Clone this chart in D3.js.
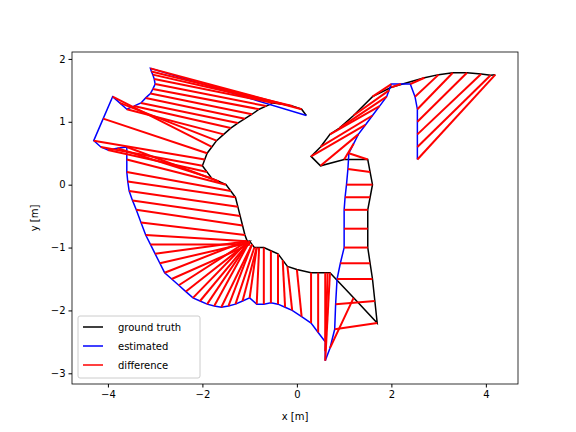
<!DOCTYPE html>
<html><head><meta charset="utf-8">
<script src="https://cdn.jsdelivr.net/npm/d3@7"></script>
<style>body{margin:0;background:#fff}text{font-family:"DejaVu Sans",sans-serif}</style>
</head><body><div id="chart"></div>
<script>
// ground truth trajectory [x, y] in metres
const gtPts = [
  [0.2,1.1],[0.1,1.2],[-0.1,1.25],[-0.3,1.28],[-0.5,1.3],[-0.65,1.25],[-0.8,1.2],[-0.95,1.12],[-1.1,1.05],[-1.25,0.98],
  [-1.4,0.9],[-1.55,0.8],[-1.7,0.7],[-1.8,0.6],[-1.9,0.5],[-1.95,0.4],[-2.0,0.3],[-1.9,0.2],[-1.8,0.1],[-1.65,0.05],
  [-1.5,0.0],[-1.4,-0.1],[-1.3,-0.2],[-1.25,-0.35],[-1.2,-0.5],[-1.15,-0.65],[-1.1,-0.8],[-1.05,-0.9],
  [-1.0,-0.95],[-1.05,-0.9],[-1.0,-0.92],[-1.1,-0.9],[-1.0,-0.95],[-1.05,-0.9],[-1.0,-0.9],[-1.1,-0.95],
  [-1.0,-0.9],[-1.05,-0.95],[-1.0,-0.9],[-0.95,-0.95],[-0.95,-0.95],[-0.9,-1.0],[-0.85,-1.0],[-0.85,-1.0],
  [-0.8,-1.0],[-0.7,-1.0],[-0.55,-1.05],[-0.4,-1.1],[-0.3,-1.2],[-0.2,-1.3],[0.0,-1.35],[0.3,-1.4],[0.45,-1.4],[0.6,-1.4],
  [0.65,-1.4],[0.7,-1.4],[1.2,-1.8],[1.7,-2.2],
  [1.65,-1.85],[1.6,-1.5],[1.55,-1.25],[1.5,-1.0],[1.5,-0.7],[1.5,-0.4],[1.55,-0.2],[1.6,0.0],[1.55,0.2],[1.5,0.4],
  [1.0,0.4],[0.5,0.3],[0.3,0.45],[0.5,0.6],[0.7,0.8],[0.9,0.9],[1.2,1.1],[1.6,1.4],[2.0,1.55],[2.7,1.7],
  [3.0,1.75],[3.3,1.78],[3.6,1.78],[3.9,1.76],[4.1,1.74],[4.2,1.75]
];
// estimated trajectory [x, y] in metres
const estPts = [
  [0.2,1.1],[-3.1,1.85],[-3.08,1.8],[-3.05,1.75],[-3.02,1.68],[-3.0,1.6],[-3.05,1.52],[-3.1,1.45],[-3.2,1.38],[-3.3,1.3],
  [-3.45,1.25],[-3.6,1.2],[-3.75,1.3],[-3.9,1.4],[-4.1,1.05],[-4.3,0.7],[-4.15,0.6],[-4.0,0.55],[-3.8,0.58],[-3.6,0.6],
  [-3.6,0.4],[-3.6,0.2],[-3.58,0.05],[-3.55,-0.1],[-3.48,-0.25],[-3.4,-0.4],[-3.3,-0.6],[-3.2,-0.8],
  [-3.1,-0.95],[-3.0,-1.1],[-2.9,-1.25],[-2.8,-1.4],[-2.65,-1.5],[-2.5,-1.6],[-2.35,-1.7],[-2.2,-1.8],
  [-2.05,-1.85],[-1.9,-1.9],[-1.75,-1.93],[-1.6,-1.95],[-1.45,-1.93],[-1.3,-1.9],[-1.15,-1.85],[-1.0,-1.8],
  [-0.85,-1.9],[-0.7,-1.9],[-0.55,-1.88],[-0.4,-1.9],[-0.25,-1.95],[-0.1,-2.0],[0.1,-2.1],[0.3,-2.2],[0.45,-2.35],[0.6,-2.5],
  [0.6,-2.65],[0.6,-2.8],[0.7,-2.6],[0.8,-2.3],
  [0.82,-1.9],[0.85,-1.5],[0.92,-1.25],[1.0,-1.0],[1.0,-0.7],[1.0,-0.4],[1.02,-0.2],[1.05,0.0],[1.08,0.25],[1.1,0.5],
  [1.2,0.65],[1.3,0.8],[1.45,0.95],[1.6,1.1],[1.75,1.25],[1.9,1.4],[1.95,1.5],[2.0,1.6],[2.2,1.6],[2.4,1.6],
  [2.5,1.4],[2.55,1.2],[2.55,1.0],[2.55,0.8],[2.55,0.6],[2.55,0.4]
];
const xTicks = [-4,-2,0,2,4];
const yTicks = [-3,-2,-1,0,1,2];
const legendItems = [["ground truth","black"],["estimated","blue"],["difference","red"]];

const W = 576, H = 432, m = {l:72, r:58, t:52, b:48};
const svg = d3.select("#chart").append("svg").attr("width", W).attr("height", H);
const x = d3.scaleLinear().domain([-4.76, 4.68]).range([m.l, W - m.r]);
const y = d3.scaleLinear().domain([-3.17, 2.11]).range([H - m.b, m.t]);
const line = d3.line().x(d => x(d[0])).y(d => y(d[1]));

svg.append("path").attr("d", line(gtPts)).attr("fill", "none").attr("stroke", "black").attr("stroke-width", 1.5);
svg.append("path").attr("d", line(estPts)).attr("fill", "none").attr("stroke", "blue").attr("stroke-width", 1.5);
svg.append("g").selectAll("line").data(gtPts).enter().append("line")
  .attr("x1", d => x(d[0])).attr("y1", d => y(d[1]))
  .attr("x2", (d, i) => x(estPts[i][0])).attr("y2", (d, i) => y(estPts[i][1]))
  .attr("stroke", "red").attr("stroke-width", 2);

svg.append("g").attr("transform", `translate(0,${H - m.b})`)
  .call(d3.axisBottom(x).tickValues(xTicks).tickFormat(d3.format("d")).tickSize(3.5).tickPadding(3))
  .call(g => g.selectAll("text").attr("font-size", 10).attr("fill", "black"));
svg.append("g").attr("transform", `translate(${m.l},0)`)
  .call(d3.axisLeft(y).tickValues(yTicks).tickFormat(d3.format("d")).tickSize(3.5).tickPadding(3))
  .call(g => g.selectAll("text").attr("font-size", 10).attr("fill", "black"));
svg.selectAll(".domain").remove();
svg.append("rect").attr("x", m.l).attr("y", m.t).attr("width", W - m.l - m.r).attr("height", H - m.t - m.b)
  .attr("fill", "none").attr("stroke", "black").attr("stroke-width", 0.8);

svg.append("text").attr("x", (m.l + W - m.r) / 2).attr("y", H - 12).attr("text-anchor", "middle").attr("font-size", 10).text("x [m]");
svg.append("text").attr("transform", `translate(38,${(m.t + H - m.b) / 2}) rotate(-90)`).attr("text-anchor", "middle").attr("font-size", 10).text("y [m]");

const lg = svg.append("g").attr("transform", "translate(78,316)");
lg.append("rect").attr("width", 122).attr("height", 62).attr("rx", 2).attr("fill", "white").attr("fill-opacity", 0.8).attr("stroke", "#ccc");
legendItems.forEach(([name, c], i) => {
  const yy = 11 + i * 19;
  lg.append("line").attr("x1", 5).attr("x2", 25).attr("y1", yy).attr("y2", yy).attr("stroke", c).attr("stroke-width", 1.5);
  lg.append("text").attr("x", 40).attr("y", yy + 3.5).attr("font-size", 10).text(name);
});
</script></body></html>
